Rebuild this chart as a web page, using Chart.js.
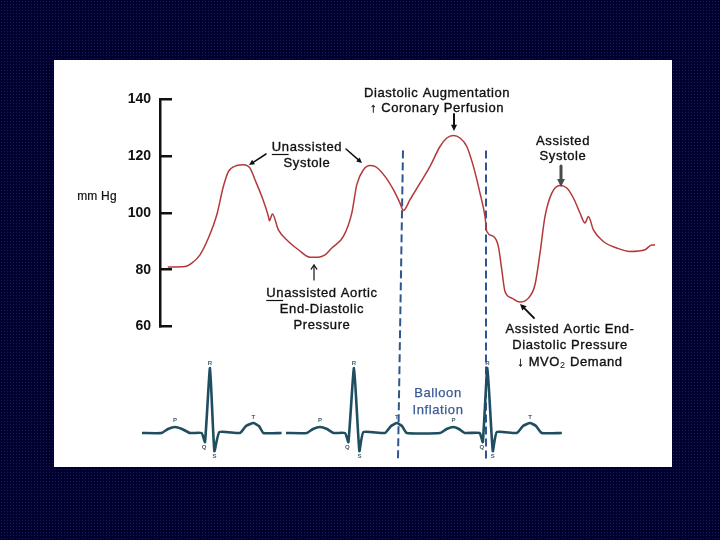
<!DOCTYPE html>
<html>
<head>
<meta charset="utf-8">
<script src="https://cdn.jsdelivr.net/npm/chart.js@4.4.1/dist/chart.umd.min.js"></script>
<style>
  html, body { margin: 0; padding: 0; }
  body {
    width: 720px; height: 540px; overflow: hidden; position: relative;
    background-color: #00002e;
    background-image: radial-gradient(rgba(45, 45, 120, 0.6) 0.6px, transparent 0.9px);
    background-size: 3px 3px;
  }
  #panel { position: absolute; left: 54px; top: 60px; width: 618px; height: 407px; background: #fff; }
  #grafica { position: absolute; left: 0; top: 0; }
</style>
</head>
<body>
<div id="panel"></div>
<canvas id="grafica" width="720" height="540"></canvas>
<script>
// 🔹 DATOS (tiempo en ms)
const tiempoPresion = [139, 225, 259, 300, 342, 384, 417, 442, 484, 517, 550, 575, 609, 642, 647, 662, 692, 742, 792, 850,
  892, 925, 959, 1017, 1059, 1084, 1117, 1150, 1175, 1225, 1267, 1300, 1317, 1350, 1400, 1450, 1500, 1534, 1567, 1600,
  1634, 1667, 1700, 1725, 1734, 1767, 1792, 1809, 1825, 1859, 1900, 1942, 1975, 2000, 2025, 2059, 2100, 2134, 2167, 2200,
  2225, 2242, 2267, 2317, 2384, 2450, 2525, 2559, 2575];
const presion = [80.9, 81.1, 82.3, 85.2, 91.1, 99.3, 109.3, 114.5, 116.6, 116.9, 115.7, 111.6, 105.7, 98.7, 97.2, 99.6, 94.0, 89.9, 87.0, 84.4,
  84.4, 85.2, 87.6, 91.7, 99.9, 109.9, 115.1, 116.6, 116.3, 112.8, 108.1, 103.4, 100.8, 104.6, 110.4, 116.3, 123.3, 126.3, 127.2, 126.3,
  123.3, 116.3, 106.9, 98.7, 93.4, 91.7, 88.1, 79.9, 72.3, 70.0, 68.6, 70.0, 74.7, 85.8, 98.7, 106.9, 109.6, 108.7, 105.2, 99.9,
  96.4, 98.7, 94.0, 89.9, 87.6, 86.4, 87.0, 88.7, 88.7];

const tiempoECG = [10, 108, 140, 175, 210, 250, 308, 325, 350, 372, 397, 500, 530, 567, 595, 617, 708, 719, 730,
  834, 865, 900, 935, 967, 1025, 1042, 1070, 1097, 1117, 1225, 1255, 1284, 1310, 1334,
  1500, 1533, 1567, 1595, 1625, 1698, 1714, 1737, 1764, 1784, 1884, 1915, 1950, 1980, 2009, 2109];
const voltajeECG = [0, 0, 0.08, 0.12, 0.08, 0, 0, -0.18, 1.3, -0.36, 0.02, 0, 0.14, 0.2, 0.14, 0, 0, null, 0,
  0, 0.08, 0.12, 0.08, 0, 0, -0.18, 1.3, -0.36, 0.02, 0, 0.14, 0.2, 0.14, 0,
  0, 0.08, 0.12, 0.08, 0, 0, -0.18, 1.3, -0.36, 0.02, 0, 0.14, 0.2, 0.14, 0, 0];

const ticksPresion = [60, 80, 100, 120, 140];
const eventosBalon = [1305, 1730]; // inflado / desinflado

const fuente = '"Liberation Sans", Arial, sans-serif';

// 🔹 ANOTACIONES (texto y flechas)
function flecha(ctx, x1, y1, x2, y2, color, ancho, cabeza, abierta) {
  const ang = Math.atan2(y2 - y1, x2 - x1);
  ctx.save();
  ctx.strokeStyle = color;
  ctx.fillStyle = color;
  ctx.lineWidth = ancho;
  ctx.lineCap = 'round';
  ctx.beginPath();
  ctx.moveTo(x1, y1);
  const fin = abierta ? 0 : cabeza * 0.6;
  ctx.lineTo(x2 - Math.cos(ang) * fin, y2 - Math.sin(ang) * fin);
  ctx.stroke();
  ctx.beginPath();
  if (abierta) {
    ctx.moveTo(x2 - cabeza * Math.cos(ang - 0.6), y2 - cabeza * Math.sin(ang - 0.6));
    ctx.lineTo(x2, y2);
    ctx.lineTo(x2 - cabeza * Math.cos(ang + 0.6), y2 - cabeza * Math.sin(ang + 0.6));
    ctx.stroke();
  } else {
    ctx.moveTo(x2, y2);
    ctx.lineTo(x2 - cabeza * Math.cos(ang - 0.45), y2 - cabeza * Math.sin(ang - 0.45));
    ctx.lineTo(x2 - cabeza * Math.cos(ang + 0.45), y2 - cabeza * Math.sin(ang + 0.45));
    ctx.closePath();
    ctx.fill();
  }
  ctx.restore();
}

function texto(ctx, txt, x, y, opts = {}) {
  ctx.save();
  ctx.font = (opts.peso || 'normal') + ' ' + (opts.tam || 13) + 'px ' + fuente;
  ctx.fillStyle = opts.color || '#111';
  ctx.strokeStyle = opts.color || '#111';
  ctx.lineWidth = opts.grosor === undefined ? 0.35 : opts.grosor;
  ctx.letterSpacing = (opts.esp === undefined ? 0.6 : opts.esp) + 'px';
  ctx.textBaseline = 'middle';
  ctx.textAlign = 'left';
  const w = ctx.measureText(txt).width;
  const x0 = x - w / 2;
  ctx.fillText(txt, x0, y);
  if (ctx.lineWidth > 0.01 && opts.grosor !== 0) ctx.strokeText(txt, x0, y);
  if (opts.subrayar) {
    const ws = ctx.measureText(opts.subrayar).width;
    ctx.lineWidth = 1.2;
    ctx.beginPath();
    ctx.moveTo(x0, y + 7.5);
    ctx.lineTo(x0 + ws - 1, y + 7.5);
    ctx.stroke();
  }
  ctx.restore();
}

const anotaciones = {
  id: 'anotaciones',
  afterDraw(chart) {
    const ctx = chart.ctx;
    const xs = chart.scales.x;
    const ye = chart.scales.yECG;

    texto(ctx, 'mm Hg', 97, 197, { tam: 12, esp: 0.2, grosor: 0.2 });

    texto(ctx, 'Diastolic Augmentation', 437, 93);
    texto(ctx, '\u2191 Coronary Perfusion', 437, 108);
    flecha(ctx, 454, 114, 454, 131, '#111', 2, 7);

    texto(ctx, 'Unassisted', 307, 147, { subrayar: 'Un' });
    texto(ctx, 'Systole', 307, 163);
    flecha(ctx, 266, 154, 249, 165, '#111', 1.5, 6);
    flecha(ctx, 346, 149, 362, 163, '#111', 1.5, 6);

    texto(ctx, 'Unassisted Aortic', 322, 293, { subrayar: 'Un' });
    texto(ctx, 'End-Diastolic', 322, 309);
    texto(ctx, 'Pressure', 322, 325);
    flecha(ctx, 314, 280, 314, 265, '#111', 1.2, 5, true);

    texto(ctx, 'Assisted', 563, 141);
    texto(ctx, 'Systole', 563, 156);
    flecha(ctx, 561, 166, 561, 187, '#4a4a4a', 3, 9);

    texto(ctx, 'Assisted Aortic End-', 570, 329);
    texto(ctx, 'Diastolic Pressure', 570, 345);
    // ↓ MVO2 Demand con subíndice
    ctx.save();
    ctx.font = '13px ' + fuente;
    ctx.letterSpacing = '0.6px';
    ctx.fillStyle = '#111';
    ctx.strokeStyle = '#111';
    ctx.lineWidth = 0.35;
    ctx.textBaseline = 'middle';
    const a = '\u2193 MVO', b = ' Demand';
    const wa = ctx.measureText(a).width, wb = ctx.measureText(b).width;
    ctx.font = '9px ' + fuente;
    const w2 = ctx.measureText('2').width;
    let x0 = 570 - (wa + w2 + wb) / 2;
    ctx.font = '13px ' + fuente;
    ctx.fillText(a, x0, 362);
    ctx.strokeText(a, x0, 362);
    ctx.font = '9px ' + fuente;
    ctx.fillText('2', x0 + wa, 366);
    ctx.font = '13px ' + fuente;
    ctx.fillText(b, x0 + wa + w2, 362);
    ctx.strokeText(b, x0 + wa + w2, 362);
    ctx.restore();
    flecha(ctx, 534, 318, 520, 304, '#111', 1.8, 7);

    texto(ctx, 'Balloon', 438, 393, { color: '#3b5a96', grosor: 0.25 });
    texto(ctx, 'Inflation', 438, 410, { color: '#3b5a96', grosor: 0.25 });

    // letras de las ondas del ECG
    const ondas = [
      { t: 175, v: 0.12, l: 'P', dy: -7 }, { t: 900, v: 0.12, l: 'P', dy: -7 }, { t: 1567, v: 0.12, l: 'P', dy: -7 },
      { t: 350, v: 1.3, l: 'R', dy: -5 }, { t: 1070, v: 1.3, l: 'R', dy: -5 }, { t: 1737, v: 1.3, l: 'R', dy: -5 },
      { t: 325, v: -0.18, l: 'Q', dy: 5, dx: -1 }, { t: 1042, v: -0.18, l: 'Q', dy: 5, dx: -1 }, { t: 1714, v: -0.18, l: 'Q', dy: 5, dx: -1 },
      { t: 372, v: -0.36, l: 'S', dy: 5 }, { t: 1097, v: -0.36, l: 'S', dy: 5 }, { t: 1764, v: -0.36, l: 'S', dy: 5 },
      { t: 567, v: 0.2, l: 'T', dy: -6 }, { t: 1284, v: 0.2, l: 'T', dy: -6 }, { t: 1950, v: 0.2, l: 'T', dy: -6 }
    ];
    ondas.forEach(o => {
      texto(ctx, o.l, xs.getPixelForValue(o.t) + (o.dx || 0), ye.getPixelForValue(o.v) + o.dy,
        { tam: 6, peso: 'bold', esp: 0, grosor: 0, color: '#3f5f6f' });
    });
  }
};

// 🔹 GRÁFICA
const ctx = document.getElementById('grafica').getContext('2d');

const grafica = new Chart(ctx, {
  type: 'line',
  data: {
    datasets: [
      {
        label: 'Presión aórtica',
        data: tiempoPresion.map((t, i) => ({ x: t, y: presion[i] })),
        yAxisID: 'y',
        borderColor: '#b3383a',
        borderWidth: 1.5,
        pointRadius: 0,
        cubicInterpolationMode: 'monotone'
      },
      {
        label: 'ECG',
        data: tiempoECG.map((t, i) => ({ x: t, y: voltajeECG[i] })),
        yAxisID: 'yECG',
        borderColor: '#1f4e60',
        borderWidth: 2.6,
        borderJoinStyle: 'round',
        pointRadius: 0,
        tension: 0.15,
        spanGaps: false,
        clip: false
      },
      ...eventosBalon.map((t, i) => ({
        label: 'Balón',
        data: [{ x: i === 0 ? t + 10 : t, y: 0.86 }, { x: i === 0 ? t - 15 : t, y: 0.02 }],
        yAxisID: 'yMarca',
        borderColor: '#2f5690',
        borderWidth: 2,
        borderDash: [8, 4],
        pointRadius: 0
      }))
    ]
  },
  options: {
    responsive: false,
    animation: false,
    devicePixelRatio: 1,
    layout: { padding: { left: 120, right: 60, top: 99, bottom: 74 } },
    plugins: { legend: { display: false }, tooltip: { enabled: false } },
    scales: {
      x: { type: 'linear', min: 100, max: 2600, display: false },
      y: {
        type: 'linear',
        position: 'left',
        stack: 'izq',
        stackWeight: 0.62,
        weight: 1,
        min: 60,
        max: 140,
        afterBuildTicks: s => { s.ticks = ticksPresion.map(v => ({ value: v })); },
        afterFit: s => { s.width = 40; },
        ticks: { color: '#111', padding: 21, font: { family: fuente, size: 14, weight: 'bold' } },
        grid: { drawOnChartArea: false, drawTicks: true, tickLength: -12, color: '#111', lineWidth: 2.5 },
        border: { display: true, color: '#111', width: 2.5 }
      },
      yECG: {
        type: 'linear',
        position: 'left',
        stack: 'izq',
        stackWeight: 0.38,
        weight: 0,
        min: -0.66,
        max: 2.13,
        display: false
      },
      yMarca: { type: 'linear', position: 'right', min: 0, max: 1, display: false }
    }
  },
  plugins: [anotaciones]
});
</script>
</body>
</html>
